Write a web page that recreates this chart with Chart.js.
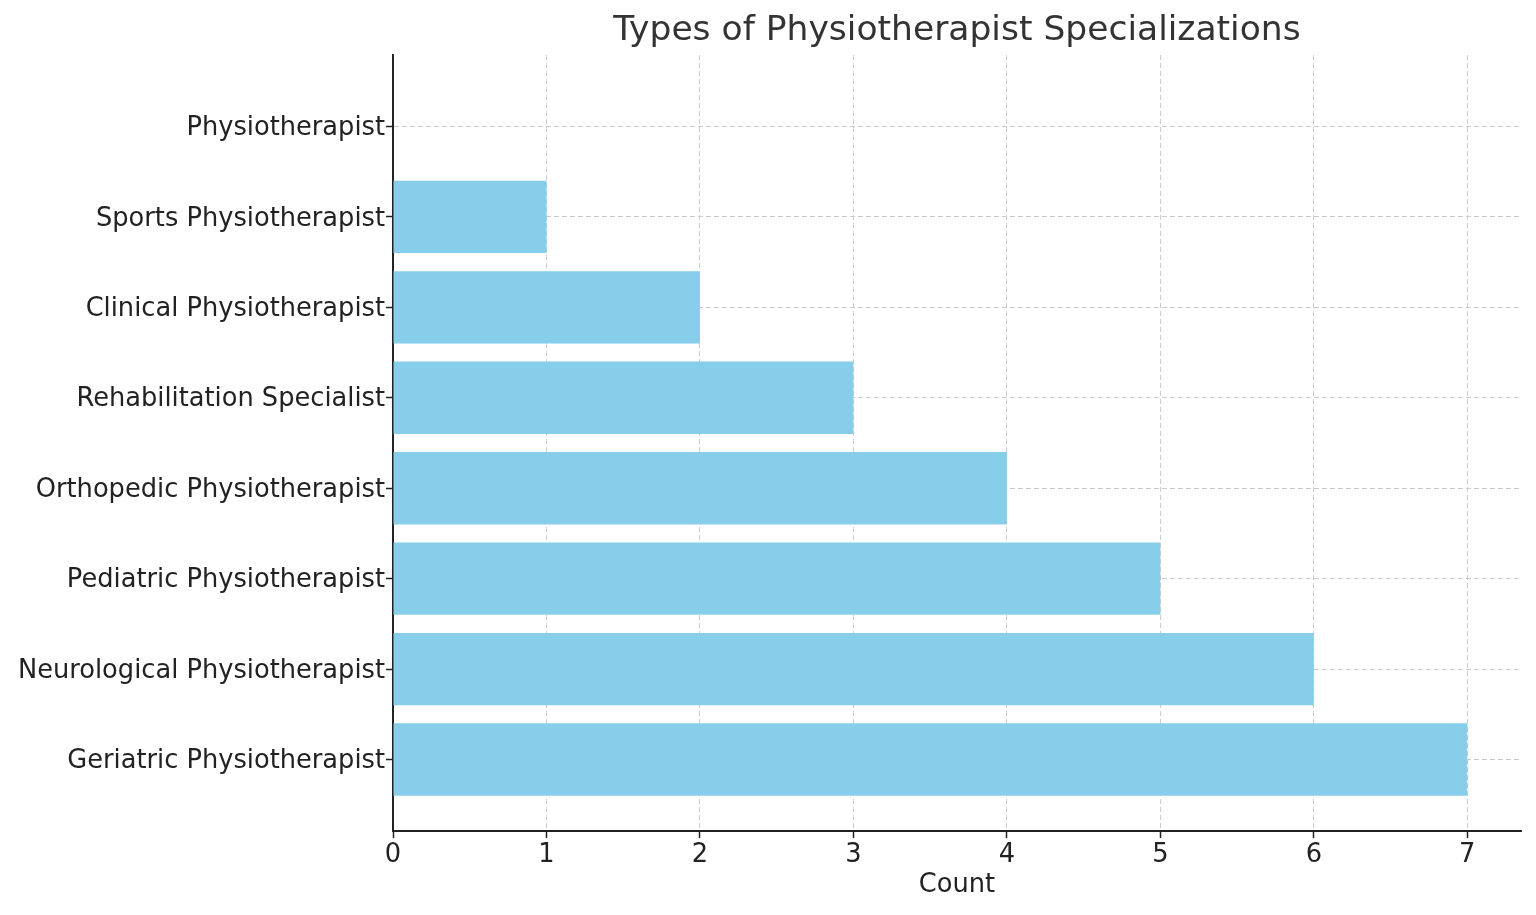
<!DOCTYPE html>
<html>
<head>
<meta charset="utf-8">
<script src="https://cdn.jsdelivr.net/npm/chart.js@4"></script>
<style>
  body { margin: 0; background: #fff; }
  #wrap { width: 1536px; height: 915px; }
</style>
</head>
<body>
<div id="wrap"><canvas id="specChart"></canvas></div>
<script>
// categories listed bottom to top (index 0 sits at the bottom of the axis)
const categories = [
    'Geriatric Physiotherapist',
    'Neurological Physiotherapist',
    'Pediatric Physiotherapist',
    'Orthopedic Physiotherapist',
    'Rehabilitation Specialist',
    'Clinical Physiotherapist',
    'Sports Physiotherapist',
    'Physiotherapist'
];
const counts = [7, 6, 5, 4, 3, 2, 1, 0];
const xTicks = [0, 1, 2, 3, 4, 5, 6, 7];

const FONT = "'DejaVu Sans', sans-serif";

// title centred over the plot area, like matplotlib does
const titlePlugin = {
    id: 'plotTitle',
    afterDraw(chart) {
        const { ctx, chartArea } = chart;
        ctx.save();
        ctx.font = '34.5px ' + FONT;
        ctx.fillStyle = '#333333';
        ctx.textAlign = 'center';
        ctx.textBaseline = 'middle';
        ctx.fillText('Types of Physiotherapist Specializations', (chartArea.left + chartArea.right) / 2, 31);
        ctx.restore();
    }
};

const gridOpts = {
    color: '#cccccc',
    lineWidth: 1,
    offset: false,
    tickBorderDash: [],
    tickColor: '#222',
    tickLength: 7,
    tickWidth: 1.5
};

const ctx = document.getElementById('specChart').getContext('2d');
new Chart(ctx, {
    type: 'bar',
    data: {
        datasets: [{
            label: 'Count',
            data: counts.map((v, i) => ({ x: v, y: i })),
            backgroundColor: '#87CEEB',
            borderWidth: 0,
            barPercentage: 0.8,
            categoryPercentage: 1
        }]
    },
    plugins: [titlePlugin],
    options: {
        indexAxis: 'y',
        responsive: true,
        maintainAspectRatio: false,
        animation: false,
        layout: { padding: { top: 55, right: 15, left: 0, bottom: 0 } },
        plugins: {
            legend: { display: false },
            tooltip: { enabled: false }
        },
        scales: {
            x: {
                type: 'linear',
                min: 0,
                max: 7.35,
                z: 1,
                afterBuildTicks: s => { s.ticks = xTicks.map(v => ({ value: v })); },
                afterFit: s => { s.height = 84; },
                border: { display: true, color: '#222', width: 2, dash: [5, 3] },
                grid: gridOpts,
                ticks: {
                    color: '#222',
                    font: { family: FONT, size: 25.7 },
                    padding: 2
                },
                title: {
                    display: true,
                    text: 'Count',
                    color: '#222',
                    font: { family: FONT, size: 25.7 },
                    padding: { top: 0, bottom: 14 }
                }
            },
            y: {
                type: 'linear',
                min: -0.79,
                max: 7.79,
                offset: false,
                z: 1,
                afterBuildTicks: s => { s.ticks = categories.map((c, i) => ({ value: i })); },
                afterFit: s => { s.width = 393; },
                border: { display: true, color: '#222', width: 2, dash: [5, 3] },
                grid: gridOpts,
                ticks: {
                    color: '#222',
                    font: { family: FONT, size: 25.7 },
                    padding: 1,
                    labelOffset: 2,
                    autoSkip: false,
                    callback: v => categories[v]
                }
            }
        }
    }
});
</script>
</body>
</html>
